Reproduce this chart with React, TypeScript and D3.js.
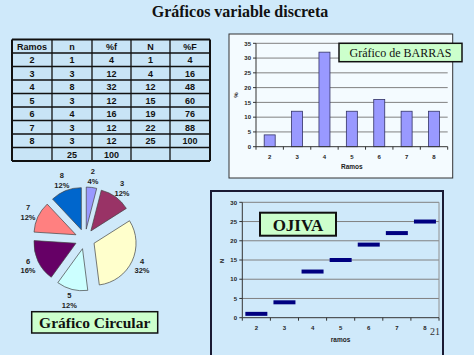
import React from "react";
import * as d3 from "d3";

const ramos = ["2", "3", "4", "5", "6", "7", "8"];
const nValues = [1, 3, 8, 3, 4, 3, 3];
const pctF = [4, 12, 32, 12, 16, 12, 12];
const cumN = [1, 4, 12, 15, 19, 22, 25];
const cumPct = [4, 16, 48, 60, 76, 88, 100];
const totalN = 25;
const totalPct = 100;
const tableHeaders = ["Ramos", "n", "%f", "N", "%F"];
const barTicks = [0, 5, 10, 15, 20, 25, 30, 35];
const ojivaTicks = [0, 5, 10, 15, 20, 25, 30];
const pieColors = ["#9999ff", "#993366", "#ffffcc", "#ccffff", "#660066", "#ff8080", "#0066cc"];

const BG = "#cfe9fa";
const SANS = "'Liberation Sans', Arial, sans-serif";
const SERIF = "'Liberation Serif', 'Times New Roman', serif";
const GREEN = "#ccffcc";

function Table() {
  const colX = [12, 52, 92, 131, 170, 210];
  const top = 39.5;
  const rh = 13.5;
  const rows: (string | number)[][] = [tableHeaders];
  ramos.forEach((r, i) => rows.push([r, nValues[i], pctF[i], cumN[i], cumPct[i]]));
  rows.push(["", totalN, totalPct, "", ""]);
  const bottom = top + rh * rows.length;
  return (
    <g>
      <rect x={colX[0]} y={top} width={colX[5] - colX[0]} height={bottom - top} fill="#c8e4f6" />
      {rows.map((_, i) => (
        <line key={"h" + i} x1={colX[0]} x2={colX[5]} y1={top + rh * i} y2={top + rh * i} stroke="#111" strokeWidth={i === 0 ? 2 : 1.3} />
      ))}
      <line x1={colX[0]} x2={colX[5]} y1={bottom} y2={bottom} stroke="#111" strokeWidth={2} />
      {colX.map((x, i) => (
        <line key={"v" + i} x1={x} x2={x} y1={top} y2={bottom} stroke="#111" strokeWidth={i === 0 || i === 5 ? 2 : 1.3} />
      ))}
      {rows.map((row, i) =>
        row.map((c, j) => (
          <text key={i + "-" + j} x={(colX[j] + colX[j + 1]) / 2} y={top + rh * i + rh / 2 + 3.3} textAnchor="middle"
            fontFamily={SANS} fontWeight="bold" fontSize={9} fill="#111">{String(c)}</text>
        ))
      )}
    </g>
  );
}

function BarChart() {
  const x = d3.scaleBand<string>().domain(ramos).range([256, 447.7]);
  const y = d3.scaleLinear().domain([0, 35]).range([146.7, 43.3]);
  const bw = 11;
  return (
    <g>
      <rect x={229} y={34} width={223.7} height={144} fill="#f4fbff" stroke="#333" strokeWidth={1} />
      {barTicks.map((t) => (
        <g key={t}>
          {t > 0 && <line x1={256} x2={447.7} y1={y(t)} y2={y(t)} stroke="#808080" strokeWidth={1} />}
          <line x1={253} x2={256} y1={y(t)} y2={y(t)} stroke="#333" />
          <text x={251} y={y(t) + 2.2} textAnchor="end" fontFamily={SANS} fontWeight="bold" fontSize={6} fill="#222">{t}</text>
        </g>
      ))}
      {ramos.map((r, i) => (
        <rect key={r} x={x(r)! + x.bandwidth() / 2 - bw / 2} y={y(pctF[i])} width={bw} height={y(0) - y(pctF[i])}
          fill="#9999ff" stroke="#333366" strokeWidth={0.8} />
      ))}
      <line x1={256} x2={256} y1={y(35)} y2={y(0)} stroke="#333" />
      <line x1={256} x2={447.7} y1={y(0)} y2={y(0)} stroke="#333" />
      {ramos.map((r, i) => (
        <g key={"t" + r}>
          <line x1={x(r)!} x2={x(r)!} y1={y(0)} y2={y(0) + 3} stroke="#333" />
          <text x={x(r)! + x.bandwidth() / 2} y={y(0) + 12} textAnchor="middle" fontFamily={SANS} fontWeight="bold" fontSize={6} fill="#222">{r}</text>
        </g>
      ))}
      <line x1={447.7} x2={447.7} y1={y(0)} y2={y(0) + 3} stroke="#333" />
      <text x={351.8} y={169} textAnchor="middle" fontFamily={SANS} fontWeight="bold" fontSize={6.5} fill="#222">Ramos</text>
      <text transform="translate(238,95) rotate(-90)" textAnchor="middle" fontFamily={SANS} fontWeight="bold" fontSize={6} fill="#222">%</text>
      <rect x={339} y={43.3} width={123} height={18.4} fill={GREEN} stroke="#111" strokeWidth={1.5} />
      <text x={400.5} y={56.5} textAnchor="middle" fontFamily={SERIF} fontSize={12} fill="#111">Gráfico de BARRAS</text>
    </g>
  );
}

function PieChart() {
  const cx = 85, cy = 239, r = 42, ex = 10;
  const arcs = d3.pie<number>().sort(null).value((d) => d)(pctF);
  const arc = d3.arc<d3.PieArcDatum<number>>().innerRadius(0).outerRadius(r);
  const labelArc = d3.arc<d3.PieArcDatum<number>>().innerRadius(63).outerRadius(63);
  return (
    <g>
      {arcs.map((a, i) => {
        const mid = (a.startAngle + a.endAngle) / 2;
        const dx = ex * Math.sin(mid), dy = -ex * Math.cos(mid);
        const [lx, ly] = labelArc.centroid(a);
        return (
          <g key={i}>
            <path d={arc(a)!} transform={`translate(${cx + dx},${cy + dy})`} fill={pieColors[i]} stroke="#444" strokeWidth={0.7} />
            <text x={cx + lx} y={cy + ly - 2} textAnchor="middle" fontFamily={SANS} fontWeight="bold" fontSize={7.5} fill="#222">{ramos[i]}</text>
            <text x={cx + lx} y={cy + ly + 7.5} textAnchor="middle" fontFamily={SANS} fontWeight="bold" fontSize={7.5} fill="#222">{pctF[i] + "%"}</text>
          </g>
        );
      })}
      <rect x={31.7} y={311.7} width={126} height={21.3} fill={GREEN} stroke="#111" strokeWidth={1.5} />
      <text x={94.7} y={328} textAnchor="middle" fontFamily={SERIF} fontWeight="bold" fontSize={15.5} fill="#111">Gráfico Circular</text>
    </g>
  );
}

function Ojiva() {
  const x = d3.scaleBand<string>().domain(ramos).range([242.3, 439]);
  const y = d3.scaleLinear().domain([0, 30]).range([317.7, 202.3]);
  const dw = 22, dh = 4;
  return (
    <g>
      <rect x={211} y={191} width={232} height={166} fill={BG} stroke="#1a1a33" strokeWidth={2} />
      {ojivaTicks.map((t) => (
        <g key={t}>
          {t > 0 && <line x1={242.3} x2={439} y1={y(t)} y2={y(t)} stroke="#808080" strokeWidth={1} />}
          <line x1={239.3} x2={242.3} y1={y(t)} y2={y(t)} stroke="#333" />
          <text x={237} y={y(t) + 2.2} textAnchor="end" fontFamily={SANS} fontWeight="bold" fontSize={6} fill="#222">{t}</text>
        </g>
      ))}
      <line x1={439} x2={439} y1={y(30)} y2={y(0)} stroke="#909090" />
      <line x1={242.3} x2={242.3} y1={y(30)} y2={y(0)} stroke="#333" />
      <line x1={242.3} x2={439} y1={y(0)} y2={y(0)} stroke="#333" />
      {ramos.map((r, i) => (
        <rect key={r} x={x(r)! + x.bandwidth() / 2 - dw / 2} y={y(cumN[i]) - dh / 2} width={dw} height={dh} fill="#000080" />
      ))}
      {ramos.map((r) => (
        <g key={"t" + r}>
          <line x1={x(r)!} x2={x(r)!} y1={y(0)} y2={y(0) + 3} stroke="#333" />
          <text x={x(r)! + x.bandwidth() / 2} y={y(0) + 12.5} textAnchor="middle" fontFamily={SANS} fontWeight="bold" fontSize={6} fill="#222">{r}</text>
        </g>
      ))}
      <line x1={439} x2={439} y1={y(0)} y2={y(0) + 3} stroke="#333" />
      <text x={340.6} y={342} textAnchor="middle" fontFamily={SANS} fontWeight="bold" fontSize={6.5} fill="#222">ramos</text>
      <text transform="translate(224,261) rotate(-90)" textAnchor="middle" fontFamily={SANS} fontWeight="bold" fontSize={6} fill="#222">N</text>
      <rect x={260} y={212.7} width={76} height={23} fill={GREEN} stroke="#111" strokeWidth={2} />
      <text x={298} y={230.5} textAnchor="middle" fontFamily={SERIF} fontWeight="bold" fontSize={17} fill="#111">OJIVA</text>
      <text x={430} y={335} textAnchor="start" fontFamily={SERIF} fontSize={10} fill="#333">21</text>
    </g>
  );
}

export default function App() {
  return (
    <svg width={474} height={355} style={{ position: "absolute", left: 0, top: 0, display: "block" }}>
      <rect x={0} y={0} width={474} height={355} fill={BG} />
      <text x={240} y={17} textAnchor="middle" fontFamily={SERIF} fontWeight="bold" fontSize={16} fill="#111">Gráficos variable discreta</text>
      <Table />
      <BarChart />
      <PieChart />
      <Ojiva />
    </svg>
  );
}
